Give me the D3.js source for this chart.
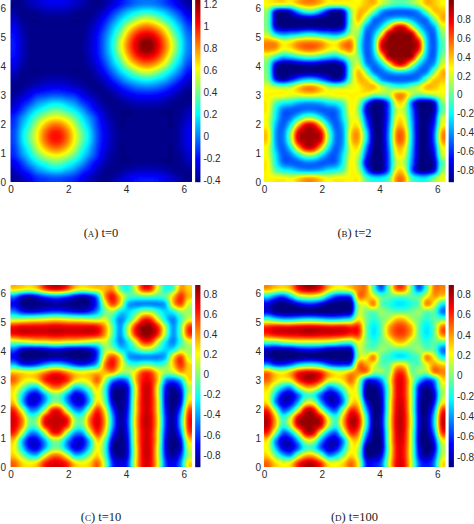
<!DOCTYPE html>
<html><head><meta charset="utf-8">
<script src="https://cdn.jsdelivr.net/npm/d3@7"></script>
<style>html,body{margin:0;padding:0;background:#fff}svg{display:block}</style>
</head><body><svg id="c" width="474" height="524"></svg>
<script>
const fieldA=[
-40,-38,-33,-29,-25,-23,-23,-25,-29,-33,-38,-40,-35,-28,-18,-10,-3,0,0,-3,-10,-18,-28,-35,
-36,-40,-39,-37,-34,-33,-33,-34,-37,-39,-40,-36,-28,-15,-3,9,17,23,23,17,9,-3,-15,-28,
-30,-38,-40,-40,-39,-39,-39,-39,-40,-40,-38,-30,-18,-3,13,28,43,54,54,43,28,13,-3,-18,
-24,-34,-39,-40,-40,-40,-40,-40,-40,-39,-34,-24,-10,9,28,54,72,83,83,72,54,28,9,-10,
-20,-31,-39,-40,-40,-40,-40,-40,-40,-39,-31,-20,-3,17,43,72,94,106,106,94,72,43,17,-3,
-18,-30,-38,-40,-40,-40,-40,-40,-40,-38,-30,-18,0,23,54,83,106,122,122,106,83,54,23,0,
-18,-30,-38,-40,-40,-40,-40,-40,-40,-38,-30,-18,0,23,54,83,106,122,122,106,83,54,23,0,
-20,-31,-39,-40,-40,-40,-40,-40,-40,-39,-31,-20,-3,17,43,72,94,106,106,94,72,43,17,-3,
-24,-34,-39,-40,-40,-40,-40,-40,-40,-39,-34,-24,-10,9,28,54,72,83,83,72,54,28,9,-10,
-30,-38,-40,-40,-39,-39,-39,-39,-40,-40,-38,-30,-18,-3,13,28,43,54,54,43,28,13,-3,-18,
-36,-40,-39,-37,-34,-33,-33,-34,-37,-39,-40,-36,-28,-15,-3,9,17,23,23,17,9,-3,-15,-28,
-40,-38,-33,-29,-25,-23,-23,-25,-29,-33,-38,-40,-35,-28,-18,-10,-3,0,0,-3,-10,-18,-28,-35,
-36,-31,-23,-14,-11,-8,-8,-11,-14,-23,-31,-36,-40,-36,-30,-24,-20,-18,-18,-20,-24,-30,-36,-40,
-31,-20,-11,2,9,15,15,9,2,-11,-20,-31,-38,-40,-38,-34,-31,-30,-30,-31,-34,-38,-40,-38,
-23,-11,5,18,28,37,37,28,18,5,-11,-23,-33,-39,-40,-40,-39,-38,-38,-39,-40,-40,-39,-33,
-14,2,18,37,52,61,61,52,37,18,2,-14,-29,-37,-40,-40,-40,-40,-40,-40,-40,-40,-37,-29,
-11,9,28,52,72,85,85,72,52,28,9,-11,-25,-34,-40,-40,-40,-40,-40,-40,-40,-40,-34,-25,
-8,15,37,61,85,100,100,85,61,37,15,-8,-23,-33,-39,-40,-40,-40,-40,-40,-40,-39,-33,-23,
-8,15,37,61,85,100,100,85,61,37,15,-8,-23,-33,-39,-40,-40,-40,-40,-40,-40,-39,-33,-23,
-11,9,28,52,72,85,85,72,52,28,9,-11,-25,-34,-40,-40,-40,-40,-40,-40,-40,-40,-34,-25,
-14,2,18,37,52,61,61,52,37,18,2,-14,-29,-37,-40,-40,-40,-40,-40,-40,-40,-40,-37,-29,
-23,-11,5,18,28,37,37,28,18,5,-11,-23,-33,-39,-40,-40,-39,-38,-38,-39,-40,-40,-39,-33,
-31,-20,-11,2,9,15,15,9,2,-11,-20,-31,-38,-40,-38,-34,-31,-30,-30,-31,-34,-38,-40,-38,
-36,-31,-23,-14,-11,-8,-8,-11,-14,-23,-31,-36,-40,-36,-30,-24,-20,-18,-18,-20,-24,-30,-36,-40];
const fieldB=[
30,30,30,25,40,50,50,40,25,25,25,30,30,40,42,20,5,-5,-5,5,20,42,40,30,
5,-70,-85,-70,-35,-10,-10,-35,-70,-85,-70,5,40,38,5,-35,-48,-50,-50,-48,-35,5,38,40,
0,-80,-92,-92,-90,-88,-88,-90,-92,-92,-80,0,42,5,-42,-47,-35,-25,-25,-35,-47,-42,5,42,
0,-75,-90,-90,-90,-88,-88,-90,-90,-90,-75,5,20,-35,-47,-25,22,72,72,22,-25,-47,-35,20,
15,-25,-40,-35,-30,-20,-20,-30,-35,-40,-25,15,5,-48,-35,22,90,97,97,90,22,-35,-48,5,
50,45,25,30,45,50,50,45,30,25,45,50,-5,-50,-25,72,97,100,100,97,72,-25,-50,-5,
50,45,25,30,45,55,55,45,30,25,45,50,-5,-50,-25,72,97,100,100,97,72,-25,-50,-5,
15,-10,-30,-25,-15,-5,-5,-15,-25,-30,-10,15,5,-48,-35,22,90,97,97,90,22,-35,-48,5,
0,-70,-90,-90,-85,-80,-80,-85,-90,-90,-70,0,20,-35,-47,-25,22,72,72,22,-25,-47,-35,20,
0,-80,-92,-92,-90,-88,-88,-90,-92,-92,-80,0,42,5,-42,-47,-35,-25,-25,-35,-47,-42,5,42,
5,-60,-80,-65,-45,-30,-30,-45,-65,-80,-60,5,40,38,5,-35,-48,-50,-50,-48,-35,5,38,40,
25,15,10,15,35,50,50,35,15,10,15,25,30,40,42,20,5,-5,-5,5,20,42,40,30,
30,30,30,25,25,30,30,25,25,30,30,30,30,25,5,5,10,48,48,15,0,5,15,25,
30,0,-15,-20,-30,-35,-35,-30,-20,-15,0,30,15,-45,-85,-85,-45,30,30,-45,-85,-88,-70,5,
30,-15,-45,-50,-50,-45,-45,-50,-50,-45,-15,30,5,-70,-90,-90,-50,15,15,-40,-88,-90,-80,-5,
25,-20,-50,-45,-20,5,5,-20,-45,-50,-20,25,15,-55,-90,-90,-50,25,25,-35,-85,-90,-70,15,
25,-30,-50,-20,38,80,80,38,-20,-50,-30,25,30,-40,-88,-88,-45,35,35,-30,-85,-88,-60,25,
35,-35,-45,5,80,93,93,80,5,-45,-35,35,45,-20,-85,-88,-40,50,50,-25,-85,-88,-50,45,
35,-35,-45,5,80,93,93,80,5,-45,-35,35,45,-20,-85,-88,-40,50,50,-25,-85,-88,-50,45,
25,-30,-50,-20,38,80,80,38,-20,-50,-30,25,30,-40,-88,-88,-45,35,35,-30,-85,-88,-60,25,
25,-20,-50,-45,-20,5,5,-20,-45,-50,-20,25,15,-55,-90,-90,-50,25,25,-35,-85,-90,-70,15,
30,-15,-45,-50,-50,-45,-45,-50,-50,-45,-15,30,5,-70,-90,-90,-50,15,15,-40,-88,-90,-80,-5,
30,0,-15,-20,-30,-35,-35,-30,-20,-15,0,30,15,-45,-85,-85,-45,30,30,-45,-85,-88,-70,5,
30,30,30,25,35,45,45,35,25,30,30,30,30,-5,-20,-20,-5,50,50,-5,-20,-20,5,25];
const fieldC=[
30,25,20,30,55,70,70,55,30,20,25,30,35,40,-5,-20,15,60,60,15,-20,-10,40,30,
-45,-70,-80,-70,-55,-45,-45,-55,-70,-80,-70,-40,40,65,30,-5,-10,-5,-5,-10,-5,30,60,35,
-70,-88,-90,-90,-88,-85,-85,-88,-90,-90,-85,-55,15,55,25,-35,-45,-45,-45,-45,-35,30,55,15,
-45,-65,-72,-70,-65,-60,-60,-65,-70,-72,-62,-40,-5,5,-25,-30,-15,5,5,-15,-30,-20,5,5,
5,5,10,12,15,20,20,15,12,10,5,5,15,-15,-45,-25,15,58,58,15,-25,-45,-15,15,
65,70,70,70,70,72,72,70,70,70,70,65,40,-5,-42,5,60,85,85,60,5,-42,-5,55,
65,70,70,70,70,72,72,70,70,70,70,65,40,-5,-42,5,60,85,85,60,5,-42,-5,55,
5,10,15,20,20,25,25,20,20,15,10,5,15,-15,-45,-25,15,58,58,15,-25,-45,-15,15,
-50,-75,-82,-82,-78,-72,-72,-78,-82,-82,-75,-50,5,5,-25,-30,-15,5,5,-15,-30,-25,5,5,
-70,-88,-90,-90,-88,-85,-85,-88,-90,-90,-85,-55,25,55,25,-35,-45,-45,-45,-45,-35,25,55,15,
-35,-60,-65,-58,-42,-30,-30,-42,-58,-65,-55,-30,45,65,30,-5,-15,-5,-5,-15,-5,30,60,30,
30,25,20,25,40,55,55,40,25,20,25,30,35,40,10,5,25,55,55,25,5,10,35,30,
50,30,22,30,60,72,72,60,30,22,30,50,10,-40,-55,-40,30,65,65,30,-40,-50,-30,25,
30,5,-25,-30,15,45,45,15,-30,-25,5,30,-15,-75,-85,-70,15,70,70,15,-65,-85,-60,5,
22,-25,-65,-72,-40,-5,-5,-40,-72,-65,-25,22,-15,-85,-90,-72,15,70,70,15,-70,-90,-75,10,
30,-30,-72,-70,-40,0,0,-40,-70,-72,-30,30,-5,-75,-90,-70,20,70,70,20,-70,-90,-70,25,
60,15,-40,-40,5,60,60,5,-40,-40,15,60,20,-55,-88,-65,20,70,70,20,-65,-88,-50,50,
72,45,-5,0,60,75,75,60,0,-5,45,72,35,-40,-85,-60,25,72,72,25,-60,-85,-35,60,
72,45,-5,0,60,75,75,60,0,-5,45,72,35,-40,-85,-60,25,72,72,25,-60,-85,-35,60,
60,15,-40,-40,5,60,60,5,-40,-40,15,60,20,-55,-88,-65,20,70,70,20,-65,-88,-50,50,
30,-30,-72,-70,-40,0,0,-40,-70,-72,-30,30,-5,-75,-90,-70,20,70,70,20,-70,-90,-70,25,
22,-25,-65,-72,-40,-5,-5,-40,-72,-65,-25,22,-15,-85,-90,-72,15,70,70,15,-70,-90,-75,10,
30,5,-25,-30,15,45,45,15,-30,-25,5,30,-10,-75,-88,-70,15,70,70,15,-65,-85,-60,5,
50,30,22,30,60,72,72,60,30,22,30,50,5,-60,-75,-60,20,68,68,20,-55,-72,-45,25];
const fieldD=[
40,30,25,35,65,80,80,65,35,20,20,30,45,45,-10,-50,-5,50,50,-5,-50,-10,45,45,
-25,-45,-55,-30,5,15,15,5,-30,-55,-60,-50,45,40,20,-5,-5,-5,-5,-5,-5,20,40,30,
-70,-85,-90,-85,-70,-60,-60,-70,-85,-90,-90,-85,10,20,45,-5,-15,-25,-25,-15,-5,45,20,-20,
-70,-85,-90,-90,-90,-88,-88,-90,-90,-90,-88,-80,10,0,-5,5,-2,-5,-5,-2,5,-5,-5,-45,
-10,-25,-35,-35,-30,-25,-25,-30,-35,-35,-30,-20,25,0,-15,-2,10,33,33,10,-2,-15,-5,-5,
60,65,65,65,68,70,70,68,65,65,65,60,60,0,-25,-5,35,55,55,35,-5,-25,-5,45,
60,68,70,72,72,75,75,72,72,70,68,60,60,0,-25,-5,35,55,55,35,-5,-25,-5,45,
-5,-5,5,10,15,15,15,15,10,5,-5,-5,25,0,-15,-2,10,33,33,10,-2,-15,-5,-5,
-75,-80,-80,-78,-70,-65,-65,-70,-78,-80,-80,-75,10,0,-5,5,-2,-5,-5,-2,5,-5,-5,-45,
-80,-90,-90,-90,-90,-88,-88,-90,-90,-90,-90,-85,10,20,45,-5,-15,-25,-25,-15,-5,45,20,-20,
-40,-60,-60,-50,-30,-20,-20,-30,-50,-60,-60,-50,45,40,20,-5,-5,25,25,-5,-5,20,40,30,
45,25,20,35,60,70,70,60,35,20,20,35,45,45,5,5,0,55,55,0,5,5,45,45,
50,30,20,25,60,78,78,60,25,20,30,50,15,-55,-60,-40,10,65,65,15,-30,-55,-40,25,
30,0,-30,-40,5,35,35,5,-40,-30,0,30,5,-80,-88,-65,0,65,65,10,-65,-85,-60,10,
20,-30,-70,-75,-50,-15,-15,-50,-75,-70,-30,20,10,-85,-90,-75,0,65,65,10,-70,-90,-75,5,
25,-40,-75,-70,-35,15,15,-35,-70,-75,-40,25,25,-60,-90,-80,5,68,68,10,-75,-90,-65,20,
60,5,-50,-35,15,72,72,15,-35,-50,5,60,45,-35,-88,-80,5,70,70,10,-75,-88,-45,55,
78,35,-15,15,72,85,85,72,15,-15,35,78,65,-15,-85,-75,10,72,72,15,-72,-85,-30,70,
78,35,-15,15,72,85,85,72,15,-15,35,78,65,-15,-85,-75,10,72,72,15,-72,-85,-30,70,
60,5,-50,-35,15,72,72,15,-35,-50,5,60,45,-35,-88,-80,5,70,70,10,-75,-88,-45,55,
25,-40,-75,-70,-35,15,15,-35,-70,-75,-40,25,25,-60,-90,-85,5,68,68,10,-78,-90,-65,20,
20,-30,-70,-75,-50,-15,-15,-50,-75,-70,-30,20,10,-85,-90,-85,0,65,65,10,-72,-90,-75,5,
30,0,-30,-40,5,35,35,5,-40,-30,0,30,5,-80,-85,-70,5,65,65,10,-65,-85,-60,10,
50,30,20,25,60,78,78,60,25,20,30,50,20,-60,-65,-50,15,68,68,15,-50,-65,-45,25];
const gridSize=24;
const xTicks=[0,2,4,6];
const yTicks=[0,1,2,3,4,5,6];
const rangeA=[-0.42,1.243], rangeB=[-0.92,1.0], rangeC=[-0.92,0.89], rangeD=[-0.9,0.893];
const ticksA=[-0.4,-0.2,0,0.2,0.4,0.6,0.8,1,1.2];
const ticksB=[-0.8,-0.6,-0.4,-0.2,0,0.2,0.4,0.6,0.8];
const ticksC=[-0.8,-0.6,-0.4,-0.2,0,0.2,0.4,0.6,0.8];
const ticksD=[-0.8,-0.6,-0.4,-0.2,0,0.2,0.4,0.6,0.8];
const captionTags=["(a)","(b)","(c)","(d)"];
const captionTexts=[" t=0"," t=2"," t=10"," t=100"];

const TAU=2*Math.PI;
const svg=d3.select("#c");
const defs=svg.append("defs");
defs.append("filter").attr("id","soft").attr("x","-5%").attr("y","-5%").attr("width","110%").attr("height","110%")
  .append("feGaussianBlur").attr("stdDeviation",0.6);
const jet=d3.scaleLinear().domain([0,.125,.375,.5,.625,.875,1])
  .range(["#00007f","#0000ff","#00ffff","#7fff7f","#ffff00","#ff0000","#7f0000"]).clamp(true);

// smooth (Catmull-Rom) display resampling of the hand-read grid, for the shading only
const up=4;
function smoothGrid(f,n,lo,hi){
  const m=n*up,out=new Array(m*m);
  const at=(c,r)=>f[Math.max(0,Math.min(n-1,r))*n+Math.max(0,Math.min(n-1,c))];
  const w=t=>[(-t+2*t*t-t*t*t)/2,(2-5*t*t+3*t*t*t)/2,(t+4*t*t-3*t*t*t)/2,(-t*t+t*t*t)/2];
  for(let j=0;j<m;j++){const v=(j+.5)/up-.5,r0=Math.floor(v),wy=w(v-r0);
    for(let i=0;i<m;i++){const u=(i+.5)/up-.5,c0=Math.floor(u),wx=w(u-c0);let s=0;
      for(let b=0;b<4;b++)for(let a=0;a<4;a++)s+=wy[b]*wx[a]*at(c0+a-1,r0+b-1);
      out[j*m+i]=Math.max(lo,Math.min(hi,s/100));}}
  return out;
}

function panel(i,field,range,ticks,L,T,yEnd){
  const R=L+181.5,B=T+182;
  const x=d3.scaleLinear().domain([0,TAU]).range([L,R]);
  const y=d3.scaleLinear().domain([0,TAU]).range([B,T]);
  const col=v=>jet((v-range[0])/(range[1]-range[0]));
  defs.append("clipPath").attr("id","clip"+i).append("rect").attr("x",L).attr("y",T).attr("width",R-L).attr("height",B-T);
  const levels=d3.range(90).map(k=>range[0]+(range[1]-range[0])*k/90);
  const m=gridSize*up;
  const cs=d3.contours().size([m,m]).thresholds(levels)(smoothGrid(field,gridSize,range[0]+.001,range[1]));
  const path=d3.geoPath(d3.geoTransform({point(px,py){this.stream.point(x(px/m*TAU),y((1-py/m)*TAU));}}));
  const g=svg.append("g").attr("clip-path",`url(#clip${i})`).append("g").attr("filter","url(#soft)");
  g.append("rect").attr("x",L-3).attr("y",T-3).attr("width",R-L+6).attr("height",B-T+6).attr("fill",col(d3.mean(field)/100));
  g.selectAll("path").data(cs).join("path").attr("d",path).attr("fill",d=>col(d.value));
  // colour bar
  const cx=R+3.2,cw=5.2;
  const cy=d3.scaleLinear().domain(range).range([B,T]);
  svg.append("g").selectAll("rect").data(d3.range(B-T)).join("rect")
    .attr("x",cx).attr("width",cw).attr("y",d=>T+d).attr("height",1.2)
    .attr("fill",d=>col(cy.invert(T+d+.5)));
  const fmt=d=>String(+d.toFixed(1));
  const cAxis=svg.append("g").attr("transform",`translate(${cx+cw},0)`).call(d3.axisRight(cy).tickValues(ticks).tickSize(0).tickPadding(3).tickFormat(fmt));
  const xAxis=svg.append("g").attr("transform",`translate(0,${B})`).call(d3.axisBottom(x).tickValues(xTicks).tickSize(0).tickPadding(4).tickFormat(d3.format("d")));
  const yAxis=svg.append("g").attr("transform",`translate(${yEnd},0)`).call(d3.axisLeft(y).tickValues(yTicks).tickSize(0).tickPadding(0).tickFormat(d3.format("d")));
  [cAxis,xAxis,yAxis].forEach(a=>{a.select(".domain").remove();
    a.selectAll("text").attr("font-family","Liberation Sans, Arial, sans-serif").attr("font-size",10).attr("fill","#2a2a2a");});
  const cap=svg.append("text").attr("x",L+90.5).attr("y",B+(i<2?55:54)).attr("text-anchor","middle")
    .attr("font-family","Liberation Serif, serif").attr("font-size",12.5).attr("fill","#222");
  cap.append("tspan").style("font-variant","small-caps").text(captionTags[i]);
  cap.append("tspan").text(captionTexts[i]);
}
panel(0,fieldA,rangeA,ticksA,10.5,0,6);
panel(1,fieldB,rangeB,ticksB,264,0,261);
panel(2,fieldC,rangeC,ticksC,10.5,285,6);
panel(3,fieldD,rangeD,ticksD,264,285,261);
</script></body></html>
